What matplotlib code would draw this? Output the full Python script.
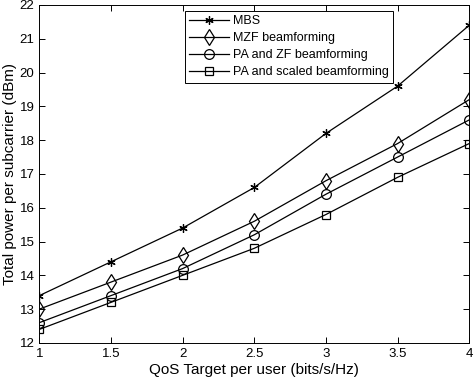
import numpy as np
import matplotlib.pyplot as plt

plt.rcParams['font.family'] = ['Liberation Sans', 'DejaVu Sans']

qos = [1, 1.5, 2, 2.5, 3, 3.5, 4]
mbs = [13.4, 14.4, 15.4, 16.6, 18.2, 19.6, 21.4]
mzf = [13.0, 13.8, 14.6, 15.6, 16.8, 17.9, 19.2]
pa_zf = [12.6, 13.4, 14.2, 15.2, 16.4, 17.5, 18.6]
pa_scaled = [12.4, 13.2, 14.0, 14.8, 15.8, 16.9, 17.9]

fig = plt.figure(figsize=(4.74, 3.84), dpi=100)
ax = fig.add_axes([0.083, 0.107, 0.907, 0.880])

kw = dict(color='black', linewidth=0.9, markerfacecolor='none', markeredgecolor='black', markeredgewidth=0.9)
ax.plot(qos, mbs, marker=(6, 2, 0), markersize=6, label='MBS', **kw)
ax.plot(qos, mzf, marker='d', markersize=8, label='MZF beamforming', **kw)
ax.plot(qos, pa_zf, marker='o', markersize=7, label='PA and ZF beamforming', **kw)
ax.plot(qos, pa_scaled, marker='s', markersize=6, label='PA and scaled beamforming', **kw)

ax.set_xlim(1, 4)
ax.set_ylim(12, 22)
ax.set_xticks(qos)
ax.set_xticklabels(['1', '1.5', '2', '2.5', '3', '3.5', '4'])
ax.set_yticks(range(12, 23))
ax.tick_params(direction='in', top=True, right=True, labelsize=9.5, length=4, width=0.7)
for s in ax.spines.values():
    s.set_linewidth(0.7)

ax.set_xlabel('QoS Target per user (bits/s/Hz)', fontsize=11, labelpad=2)
ax.set_ylabel('Total power per subcarrier (dBm)', fontsize=11, labelpad=2)

leg = ax.legend(loc='upper center', bbox_to_anchor=(0.58, 0.982), fontsize=9, fancybox=False,
                edgecolor='black', framealpha=1, borderpad=0.35, labelspacing=0.4, handlelength=3.2,
                handletextpad=0.3, borderaxespad=0)
leg.get_frame().set_linewidth(0.7)

fig.savefig('out.png', dpi=100)
